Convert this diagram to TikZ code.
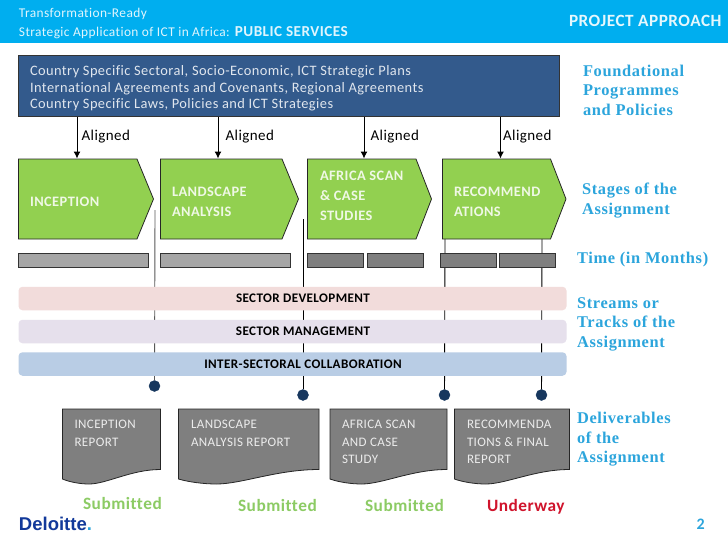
\documentclass[tikz,border=0pt]{standalone}
\usepackage{fontspec}
\setmainfont{Carlito}[LetterSpace=3,Ligatures=NoCommon]
\newfontfamily\serifb{Liberation Serif}[BoldFont={Liberation Serif Bold},LetterSpace=4,Ligatures=NoCommon]
\newfontfamily\arialb{Liberation Sans}
\usetikzlibrary{arrows.meta}
\definecolor{hdr}{HTML}{00AEEF}
\definecolor{navy}{HTML}{335A8C}
\definecolor{stagegreen}{HTML}{92D050}
\definecolor{lbl}{HTML}{2CA5DC}
\definecolor{subgreen}{HTML}{8CCB64}
\definecolor{under}{HTML}{D0142C}
\definecolor{docgray}{HTML}{7F7F7F}
\definecolor{barlight}{HTML}{A6A6A6}
\definecolor{dotblue}{HTML}{17375E}
\definecolor{bandr}{RGB}{242,220,219}
\definecolor{bandv}{RGB}{230,224,236}
\definecolor{bandb}{RGB}{185,205,229}
\definecolor{deloitteblue}{RGB}{18,57,154}
\newcommand{\fs}[1]{\fontsize{#1}{#1}\selectfont}
\newcommand{\stageshape}[4]{% name, x1, x2, tip
  \draw[stage] (#2,159) -- (#3,159) -- (#4,199) -- (#3,239) -- (#2,239) -- cycle;
  \coordinate (#1) at (#2,159);}
\newcommand{\docshape}[3]{% name, x1, x2
  \pgfmathsetmacro{\dw}{#3-#2}
  \draw[doc] (#2,409) -- (#3,409) -- (#3,469.5)
    .. controls ({#3-0.3*\dw},469.5) and ({#2+0.45*\dw},484) .. ({#2+0.27*\dw},484)
    .. controls ({#2+0.18*\dw},484) and ({#2+0.07*\dw},482) .. (#2,479) -- cycle;
  \coordinate (#1) at (#2,409);}
\tikzset{
  x=1pt,y=-1pt,
  txt/.style={anchor=mid west,inner sep=0pt,outer sep=0pt,yshift=-3pt},
  hd/.style={txt,text=white!88!hdr,font=\fs{13.4}},
  found/.style={txt,text=white!85!navy,font=\fs{14.4}},
  stage/.style={draw=black!85,line width=0.8pt,fill=stagegreen},
  stxt/.style={txt,text=white!85!stagegreen,font=\fs{14.4}\bfseries},
  al/.style={txt,text=black,font=\fs{15}},
  arr/.style={draw=black,line width=1pt,-{Latex[length=7pt,width=7pt]}},
  barl/.style={draw=black!80,line width=0.7pt,fill=barlight,minimum height=13.5pt,inner sep=0pt,anchor=west},
  bard/.style={barl,fill=docgray},
  vline/.style={draw=black,line width=0.9pt},
  dot/.style={circle,fill=dotblue,draw=dotblue,minimum size=11pt,inner sep=0pt},
  band/.style={rounded corners=4pt,inner sep=0pt,minimum height=23.5pt,minimum width=548pt,text=black,font=\fs{13.1}\bfseries},
  doc/.style={draw=black!85,line width=0.8pt,fill=docgray},
  dtxt/.style={txt,text=white!85!docgray,font=\fs{13}},
  side/.style={txt,text=lbl,font=\fs{16.4}\serifb\bfseries},
  sub/.style={txt,text=subgreen,font=\fs{17.3}\bfseries},
}
\begin{document}
\begin{tikzpicture}
\useasboundingbox (0,0) rectangle (728,546);
\fill[white] (0,0) rectangle (728,546);
\fill[hdr] (0,0) rectangle (728,43);
\node[hd] (h1) at (19,12.5) {Transformation-Ready};
\node[hd] (h2) at (19,31) {Strategic Application of ICT in Africa: \textbf{\fs{15.2}PUBLIC SERVICES}};
\node[txt,text=white!90!hdr,font=\fs{17.2}\bfseries] (h3) at (569,21) {PROJECT APPROACH};

\node[draw=black!80,line width=0.8pt,fill=navy,minimum width=540.5pt,minimum height=61.5pt,inner sep=0pt] (blue) at (288.75,85.75) {};
\node[found] (f1) at (30,70) {Country Specific Sectoral, Socio-Economic, ICT Strategic Plans};
\node[found] (f2) at (30,87) {International Agreements and Covenants, Regional Agreements};
\node[found] (f3) at (30,103.5) {Country Specific Laws, Policies and ICT Strategies};

% delivery lines (behind bars and bands)
\node[dot] (d1) at (154.5,386) {};
\node[dot] (d2) at (303,395) {};
\node[dot] (d3) at (444.5,395) {};
\node[dot] (d4) at (541.5,395) {};
\coordinate (t1) at (155,210);
\coordinate (t2) at (303,219);
\coordinate (t3) at (445,239);
\coordinate (t4) at (542,239);
\draw[vline,draw=black!65] (t1) -- (d1);
\draw[vline] (t2) -- (d2);
\draw[vline] (t3) -- (d3);
\draw[vline] (t4) -- (d4);

\stageshape{s1}{18.5}{137}{153.5}
\stageshape{s2}{160.5}{282}{298.5}
\stageshape{s3}{307.5}{416}{431.5}
\stageshape{s4}{442.5}{550.5}{566}
\node[stxt] (t1a) at (30,201.5) {INCEPTION};
\node[stxt] (t2a) at (172,191.5) {LANDSCAPE};
\node[stxt] (t2b) at (172,211.5) {ANALYSIS};
\node[stxt] (t3a) at (320,175.5) {AFRICA SCAN};
\node[stxt] (t3b) at (320,195.5) {\& CASE};
\node[stxt] (t3c) at (320,215.5) {STUDIES};
\node[stxt] (t4a) at (454,191.5) {RECOMMEND};
\node[stxt] (t4b) at (454,211.5) {ATIONS};

\coordinate (a1) at (77,158.5);
\coordinate (a2) at (218,158.5);
\coordinate (a3) at (364,158.5);
\coordinate (a4) at (500.5,158.5);
\draw[arr] (blue.south -| a1) -- (a1);
\draw[arr] (blue.south -| a2) -- (a2);
\draw[arr] (blue.south -| a3) -- (a3);
\draw[arr] (blue.south -| a4) -- (a4);
\node[al] (l1) at (81.5,135.5) {Aligned};
\node[al] (l2) at (225.5,135.5) {Aligned};
\node[al] (l3) at (370.5,135.5) {Aligned};
\node[al] (l4) at (503,135.5) {Aligned};

\node[barl,minimum width=129.5pt] (b1) at (18.2,260.5) {};
\node[barl,minimum width=129.5pt] (b2) at (160,260.5) {};
\node[bard,minimum width=56pt] (b3) at (307.2,260.5) {};
\node[bard,minimum width=56pt] (b4) at (366.8,260.5) {};
\node[bard,minimum width=56pt] (b5) at (440.2,260.5) {};
\node[bard,minimum width=56pt] (b6) at (499.2,260.5) {};

\node[band,fill=bandr] (r1) at (292.5,298.5) {\hspace*{21pt}SECTOR DEVELOPMENT};
\node[band,fill=bandv] (r2) at (292.5,331.5) {\hspace*{21pt}SECTOR MANAGEMENT};
\node[band,fill=bandb] (r3) at (292.5,364) {\hspace*{21pt}INTER-SECTORAL COLLABORATION};

\docshape{p1}{62.5}{160.5}
\docshape{p2}{178.5}{319}
\docshape{p3}{330}{447}
\docshape{p4}{454.5}{569.5}
\node[dtxt] (q1a) at (74.5,423) {INCEPTION};
\node[dtxt] (q1b) at (74.5,441) {REPORT};
\node[dtxt] (q2a) at (191,423) {LANDSCAPE};
\node[dtxt] (q2b) at (191,441) {ANALYSIS REPORT};
\node[dtxt] (q3a) at (342,423) {AFRICA SCAN};
\node[dtxt] (q3b) at (342,441) {AND CASE};
\node[dtxt] (q3c) at (342,458) {STUDY};
\node[dtxt] (q4a) at (467,423) {RECOMMENDA};
\node[dtxt] (q4b) at (467,441) {TIONS \& FINAL};
\node[dtxt] (q4c) at (467,458) {REPORT};

\node[side] (e1) at (583,71) {Foundational};
\node[side] (e2) at (583,90.5) {Programmes};
\node[side] (e3) at (583,110) {and Policies};
\node[side] (e4) at (582,189.5) {Stages of the};
\node[side] (e5) at (582,209.5) {Assignment};
\node[side] (e6) at (577,258) {Time (in Months)};
\node[side] (e7) at (577,303.5) {Streams or};
\node[side] (e8) at (577,322.5) {Tracks of the};
\node[side] (e9) at (577,342.5) {Assignment};
\node[side] (e10) at (577,418.5) {Deliverables};
\node[side] (e11) at (577,438.5) {of the};
\node[side] (e12) at (577,457.5) {Assignment};

\node[sub] (u1) at (83,504.5) {Submitted};
\node[sub] (u2) at (238,506.5) {Submitted};
\node[sub] (u3) at (365,506.5) {Submitted};
\node[sub,text=under] (u4) at (487,506) {Underway};

\node[txt,font=\fs{18.5}\arialb\bfseries,text=deloitteblue] (dl) at (19,525) {Deloitte\textcolor{lbl}{.}};
\node[txt,font=\fs{16}\bfseries,text=lbl] (pg) at (696.5,524) {2};
\end{tikzpicture}
\end{document}
